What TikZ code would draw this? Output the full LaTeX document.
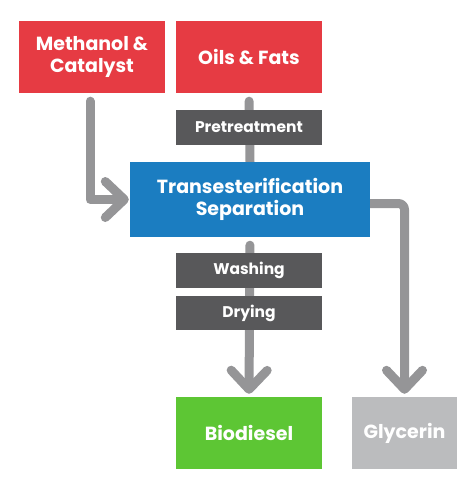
\documentclass[tikz,border=0pt]{standalone}
\usepackage{fontspec}
\setmainfont{Poppins}
\usetikzlibrary{arrows.meta, positioning, backgrounds}
\definecolor{feedred}{HTML}{E63B43}
\definecolor{stepgray}{HTML}{58585A}
\definecolor{reactblue}{HTML}{1B7DC1}
\definecolor{fuelgreen}{HTML}{5DC634}
\definecolor{sidegray}{HTML}{BBBCBE}
\definecolor{flowgray}{HTML}{959597}
\tikzstyle{line} = [draw=flowgray, line width=9pt, line cap=round, line join=round]

\begin{document}
\begin{tikzpicture}[x=1pt, y=-1pt, >={Straight Barb[length=19pt, width=36pt, round]}]
  % Define styles
  \tikzstyle{feed} = [rectangle, minimum width=146pt, minimum height=72pt, text centered, fill=feedred, text=white, font=\fontsize{19}{22}\selectfont\bfseries, align=center, inner sep=0pt]
  \tikzstyle{stage} = [rectangle, minimum width=146pt, minimum height=35pt, text centered, fill=stepgray, text=white, font=\fontsize{15.5}{18}\selectfont\bfseries, inner sep=0pt]
  \tikzstyle{reactor} = [rectangle, minimum width=240pt, minimum height=75pt, text centered, fill=reactblue, text=white, font=\fontsize{19}{22}\selectfont\bfseries, align=center, inner sep=0pt]
  \tikzstyle{product} = [rectangle, minimum height=72pt, text centered, text=white, font=\fontsize{19}{22}\selectfont\bfseries, inner sep=0pt]
  \tikzstyle{arrow} = [line, ->]

  \path[use as bounding box] (0,0) rectangle (474,496);

  % Place nodes
  \node [feed] (methanol) at (92,57) {Methanol \&\\Catalyst};
  \node [feed] (oils) at (249,57) {Oils \& Fats};
  \node [stage] (pretreat) at (249,127.5) {Pretreatment};
  \node [reactor] (trans) at (250,199.5) {Transesterification\\Separation};
  \node [stage] (washing) at (249,270.5) {Washing};
  \node [stage, minimum height=34pt] (drying) at (249,313) {Drying};
  \node [product, fill=fuelgreen, minimum width=146pt] (biodiesel) at (249,433) {Biodiesel};
  \node [product, fill=sidegray, minimum width=105pt] (glycerin) at (404.5,433) {Glycerin};

  % Draw edges
  \begin{scope}[on background layer]
    \path [line, shorten <=8pt] (oils.south) -- (trans.north);
    \path [arrow, shorten <=8pt, shorten >=3pt] (trans.south) -- (biodiesel.north);
    \path [arrow, rounded corners=6pt, shorten >=3pt] ([yshift=-4pt]trans.east) -| (glycerin.north);
  \end{scope}
  \path [arrow, shorten <=8pt, shorten >=1pt] ([xshift=-2pt]methanol.south) |- (trans.west);

\end{tikzpicture}
\end{document}
